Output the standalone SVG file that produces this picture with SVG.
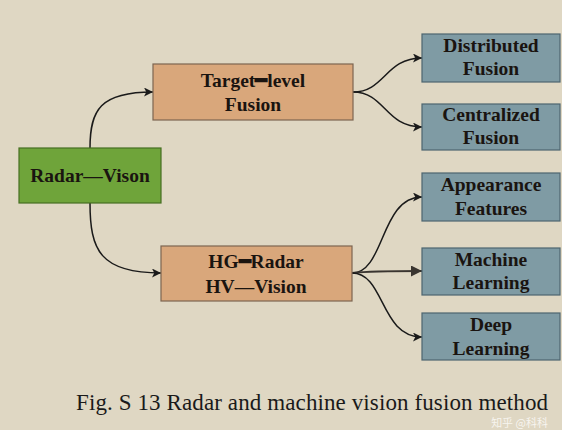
<svg xmlns="http://www.w3.org/2000/svg" width="562" height="430" viewBox="0 0 562 430">
<defs>
<marker id="ah" viewBox="0 0 10 10" refX="10" refY="5" markerWidth="9" markerHeight="9" markerUnits="userSpaceOnUse" orient="auto">
<path d="M0,0 L10,5 L0,10 L2.5,5 Z" fill="#1a1a1a"/>
</marker>
<marker id="ah2" viewBox="0 0 10 10" refX="10" refY="5" markerWidth="11" markerHeight="11" markerUnits="userSpaceOnUse" orient="auto">
<path d="M0,0 L10,5 L0,10 Z" fill="#3a3530"/>
</marker>
<style>
.t{font-family:"Liberation Serif","Times New Roman",serif;font-weight:bold;font-size:19.5px;fill:#1a1410;text-anchor:middle}
.g{fill:#6fa43a;stroke:#466f22;stroke-width:1.2}
.o{fill:#d9a77b;stroke:#7d6550;stroke-width:1.2}
.b{fill:#7f9ba4;stroke:#4d6570;stroke-width:1.2}
.c{fill:none;stroke:#1a1a1a;stroke-width:1.5;marker-end:url(#ah)}
</style>
</defs>
<rect width="562" height="430" fill="#dfd7c3"/>
<g id="connectors">
<path class="c" d="M90,148 C90,110 100,92 153,92"/>
<path class="c" d="M90,203 C90,250 100,273 161,273"/>
<path class="c" d="M353,92 C385,92 385,58 422,58"/>
<path class="c" d="M353,92 C385,92 385,127 422,127"/>
<path class="c" d="M352,273 C385,273 380,197 422,197"/>
<path d="M352,273 C370,271 390,271 422,271" fill="none" stroke="#3a3530" stroke-width="1.8" marker-end="url(#ah2)"/>
<path class="c" d="M352,273 C385,273 380,337 422,337"/>
</g>
<g id="radar-vison">
<rect class="g" x="19" y="148" width="142" height="55"/>
<text class="t" x="90" y="182">Radar—Vison</text>
</g>
<g id="target-level">
<rect class="o" x="153" y="64" width="200" height="56"/>
<text class="t" x="253" y="87">Target━level</text>
<text class="t" x="253" y="111">Fusion</text>
</g>
<g id="hg-radar">
<rect class="o" x="161" y="246" width="191" height="55"/>
<text class="t" x="256" y="268">HG━Radar</text>
<text class="t" x="256" y="293">HV—Vision</text>
</g>
<g id="distributed">
<rect class="b" x="422" y="34" width="138" height="48"/>
<text class="t" x="491" y="52">Distributed</text>
<text class="t" x="491" y="75">Fusion</text>
</g>
<g id="centralized">
<rect class="b" x="422" y="104" width="138" height="46"/>
<text class="t" x="491" y="121">Centralized</text>
<text class="t" x="491" y="144">Fusion</text>
</g>
<g id="appearance">
<rect class="b" x="422" y="173" width="138" height="48"/>
<text class="t" x="491" y="191">Appearance</text>
<text class="t" x="491" y="215">Features</text>
</g>
<g id="machine">
<rect class="b" x="422" y="248" width="138" height="47"/>
<text class="t" x="491" y="266">Machine</text>
<text class="t" x="491" y="289">Learning</text>
</g>
<g id="deep">
<rect class="b" x="422" y="313" width="138" height="47"/>
<text class="t" x="491" y="331">Deep</text>
<text class="t" x="491" y="355">Learning</text>
</g>
<text x="76" y="410" font-family="'Liberation Serif','Times New Roman',serif" font-size="23" textLength="472" fill="#1a1a1a">Fig. S 13 Radar and machine vision fusion method</text>
<text x="548" y="427" text-anchor="end" font-family="'Noto Sans CJK SC',sans-serif" font-size="11" fill="#ffffff" fill-opacity="0.75">知乎 @科科</text>
</svg>
